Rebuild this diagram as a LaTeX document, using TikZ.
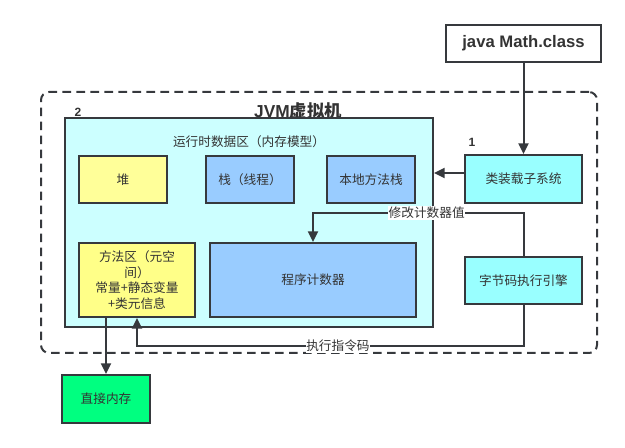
\documentclass[tikz,border=0pt]{standalone}
\usepackage{fontspec}
\setmainfont{Noto Sans CJK SC}
\newfontfamily\latinbold{Liberation Sans}
\usetikzlibrary{arrows.meta}
\definecolor{bd}{HTML}{36393D}
\definecolor{tx}{HTML}{333333}
\definecolor{yel}{HTML}{FFFF99}
\definecolor{yel2}{HTML}{FFFF88}
\definecolor{blu}{HTML}{99CCFF}
\definecolor{rt}{HTML}{CCFFFF}
\definecolor{cy}{HTML}{99FFFF}
\definecolor{grn}{HTML}{00FF80}
\tikzset{
  bx/.style 2 args={draw=bd, line width=1.5pt, rectangle, minimum width=#1*0.75pt, minimum height=#2*0.75pt, inner sep=1pt, align=center, text=tx, font=\fontsize{9.5}{12}\selectfont},
  arr/.style={draw=bd, line width=1.5pt, -{Triangle[length=8pt,width=7.5pt]}},
  lab/.style={fill=white, inner sep=0.5pt, text=tx, font=\fontsize{9.5}{11}\selectfont},
  plain/.style={text=tx, inner sep=0pt}
}
\begin{document}
\begin{tikzpicture}[x=0.75pt,y=-0.75pt]
\useasboundingbox (0,0) rectangle (625,448);
% outer dashed
\node[draw=bd, line width=1.5pt, dash pattern=on 6.5pt off 4pt, rounded corners=6pt, minimum width=556*0.75pt, minimum height=261*0.75pt] (jvm) at (319,222.5) {};
\node[plain, font=\latinbold\bfseries\fontsize{13}{15}\selectfont] (jvmt) at (298,111) {JVM\normalfont\bfseries\fontsize{13}{15}\selectfont 虚拟机};
% runtime
\node[bx={368}{209}, fill=rt] (runtime) at (249,222.5) {};
\node[plain, font=\fontsize{9.5}{12}\selectfont] (rtt) at (249,142) {运行时数据区（内存模型）};
\node[plain, font=\latinbold\bfseries\fontsize{9}{10}\selectfont] (n2) at (78,112) {2};
\node[plain, font=\latinbold\bfseries\fontsize{9}{10}\selectfont] (n1) at (472,142) {1};
% inner boxes
\node[bx={88}{47}, fill=yel] (heap) at (123,179.5) {堆};
\node[bx={88}{47}, fill=blu] (stack) at (250,179.5) {栈（线程）};
\node[bx={88}{47}, fill=blu] (native) at (371,179.5) {本地方法栈};
\node[bx={116}{74}, fill=yel2, font=\fontsize{9.5}{11.8}\selectfont] (method) at (137,280) {方法区（元空\\间）\\常量+静态变量\\+类元信息};
\node[bx={206}{74}, fill=blu] (pc) at (313,280) {程序计数器};
% right side
\node[bx={155}{37}, font=\latinbold\bfseries\fontsize{12.5}{14}\selectfont] (cls) at (523.5,43.5) {java Math.class};
\node[bx={117}{48}, fill=cy] (loader) at (523.5,179) {类装载子系统};
\node[bx={117}{47}, fill=cy] (engine) at (523.5,280.5) {字节码执行引擎};
\node[bx={88}{48}, fill=grn] (direct) at (106,399) {直接内存};
% connectors
\draw[arr] (cls.south) -- (loader.north);
\draw[arr] ([yshift=4.5pt]loader.west) -- ([yshift=4.5pt]loader.west -| runtime.east);
\draw[arr] (engine.north) -- (engine.north |- 0,213) -- node[lab, pos=0.46] (l1) {修改计数器值} (pc.north |- 0,213) -- (pc.north);
\draw[arr] (engine.south) -- (engine.south |- 0,346) -- node[lab, pos=0.48] (l2) {执行指令码} (method.south |- 0,346) -- (method.south);
\draw[arr] (method.south -| direct.north) -- (direct.north);
\end{tikzpicture}
\end{document}
